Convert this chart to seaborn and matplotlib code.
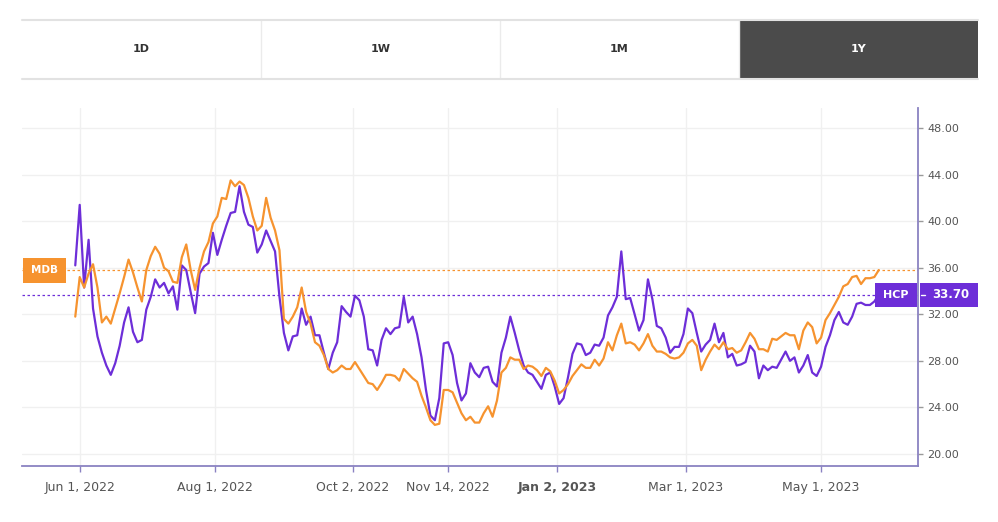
import numpy as np
import pandas as pd
import matplotlib
matplotlib.use("Agg")
import matplotlib.pyplot as plt
import matplotlib.dates as mdates
import matplotlib.transforms as mtransforms
from matplotlib.patches import Rectangle
import seaborn as sns

# ---------------- data ----------------
start_date = "2022-05-30"          # series sampled every 2 calendar days
hcp = [36.2, 41.4, 34.3, 38.4, 32.5, 30.1, 28.7, 27.6, 26.8, 27.8,
       29.3, 31.3, 32.6, 30.5, 29.6, 29.8, 32.4, 33.5, 35.0, 34.3,
       34.7, 33.8, 34.4, 32.4, 36.2, 35.8, 33.9, 32.1, 35.5, 36.1,
       36.4, 39.0, 37.1, 38.4, 39.6, 40.7, 40.8, 43.0, 40.8, 39.7,
       39.5, 37.3, 38.0, 39.2, 38.3, 37.4, 33.5, 30.4, 28.9, 30.1,
       30.2, 32.5, 31.1, 31.8, 30.2, 30.2, 28.7, 27.3, 28.7, 29.6,
       32.7, 32.2, 31.8, 33.6, 33.2, 31.8, 29.0, 28.9, 27.6, 29.8,
       30.8, 30.3, 30.8, 30.9, 33.5, 31.3, 31.8, 30.3, 28.3, 25.5,
       23.3, 22.9, 24.8, 29.5, 29.6, 28.5, 26.1, 24.6, 25.2, 27.8,
       27.0, 26.6, 27.4, 27.5, 26.2, 25.8, 28.7, 30.0, 31.8, 30.4,
       28.9, 27.6, 27.0, 26.8, 26.2, 25.6, 26.8, 27.0, 25.8, 24.3,
       24.8, 26.6, 28.6, 29.5, 29.4, 28.5, 28.7, 29.4, 29.3, 30.0,
       31.9, 32.6, 33.5, 37.4, 33.3, 33.4, 32.0, 30.6, 31.5, 35.0,
       33.3, 31.0, 30.8, 30.0, 28.7, 29.2, 29.2, 30.3, 32.5, 32.1,
       30.4, 28.8, 29.4, 29.8, 31.2, 29.6, 30.4, 28.3, 28.6, 27.6,
       27.7, 27.9, 29.3, 28.8, 26.5, 27.6, 27.2, 27.5, 27.4, 28.1,
       28.8, 28.0, 28.3, 27.0, 27.6, 28.5, 27.0, 26.7, 27.5, 29.2,
       30.2, 31.5, 32.2, 31.3, 31.1, 31.8, 32.9, 33.0, 32.8, 32.8,
       33.1, 33.7]
mdb = [31.8, 35.2, 34.3, 35.5, 36.3, 34.3, 31.3, 31.8, 31.2, 32.5,
       33.8, 35.2, 36.7, 35.6, 34.3, 33.1, 35.8, 37.0, 37.8, 37.2,
       36.0, 35.7, 34.8, 34.7, 36.9, 38.0, 35.8, 34.1, 36.0, 37.4,
       38.2, 39.8, 40.4, 42.0, 41.9, 43.5, 43.0, 43.4, 43.1, 42.0,
       40.4, 39.2, 39.6, 42.0, 40.3, 39.2, 37.5, 31.6, 31.2, 31.8,
       32.6, 34.3, 32.2, 31.2, 29.6, 29.3, 28.5, 27.3, 27.0, 27.2,
       27.6, 27.3, 27.3, 27.9, 27.3, 26.7, 26.1, 26.0, 25.5, 26.1,
       26.8, 26.8, 26.7, 26.3, 27.3, 26.9, 26.5, 26.2, 25.0, 24.0,
       22.9, 22.5, 22.6, 25.5, 25.5, 25.3, 24.4, 23.5, 22.9, 23.2,
       22.7, 22.7, 23.5, 24.1, 23.2, 24.6, 27.0, 27.4, 28.3, 28.1,
       28.1, 27.3, 27.6, 27.5, 27.2, 26.7, 27.4, 27.1, 26.3, 25.2,
       25.5, 26.0, 26.7, 27.2, 27.7, 27.4, 27.4, 28.1, 27.6, 28.2,
       29.6, 28.9, 30.2, 31.2, 29.5, 29.6, 29.4, 28.9, 29.5, 30.3,
       29.3, 28.8, 28.8, 28.6, 28.3, 28.2, 28.3, 28.7, 29.5, 29.8,
       29.3, 27.2, 28.1, 28.8, 29.4, 29.0, 29.6, 29.0, 29.1, 28.7,
       28.9, 29.6, 30.4, 29.9, 29.0, 29.0, 28.8, 29.9, 29.8, 30.1,
       30.4, 30.2, 30.2, 29.0, 30.6, 31.3, 30.9, 29.5, 30.0, 31.5,
       32.1, 32.8, 33.5, 34.4, 34.6, 35.2, 35.3, 34.6, 35.1, 35.1,
       35.2, 35.8]
tickers = ["HCP", "MDB"]
tick_dates = ["2022-06-01", "2022-08-01", "2022-10-02", "2022-11-14",
              "2023-01-02", "2023-03-01", "2023-05-01"]
tick_labels = ["Jun 1, 2022", "Aug 1, 2022", "Oct 2, 2022", "Nov 14, 2022",
               "Jan 2, 2023", "Mar 1, 2023", "May 1, 2023"]
y_ticks = [20, 24, 28, 32, 36, 40, 44, 48]
ranges = ["1D", "1W", "1M", "1Y"]
active_range = "1Y"

# ---------------- styling ----------------
PURPLE = "#6d2ed8"
ORANGE = "#f6932f"
AXIS = "#8a82c2"

dates = pd.date_range(start_date, periods=len(hcp), freq="2D")
df = pd.DataFrame({
    "date": list(dates) * 2,
    "price": hcp + mdb,
    "ticker": ["HCP"] * len(hcp) + ["MDB"] * len(mdb),
})

sns.set_theme(style="white")
plt.rcParams["font.family"] = ["DejaVu Sans"]

fig = plt.figure(figsize=(9.98, 5.22), dpi=100)
W, H = 998, 522

# ---------------- range selector bar ----------------
bar = fig.add_axes([22 / W, 1 - 79 / H, 956 / W, 59 / H])
bar.set_xlim(0, len(ranges))
bar.set_ylim(0, 1)
bar.axis("off")
for i, r in enumerate(ranges):
    active = r == active_range
    if active:
        bar.add_patch(Rectangle((i, 0), 1, 1, facecolor="#4b4b4b", edgecolor="none"))
    bar.text(i + 0.5, 0.5, r, ha="center", va="center", fontsize=8,
             fontweight="bold", color="white" if active else "#333333")
for i in range(1, len(ranges)):
    bar.plot([i, i], [0, 1], color="#ebebeb", lw=1)
bar.plot([0, len(ranges)], [1, 1], color="#e2e2e2", lw=1.5, clip_on=False)
bar.plot([0, len(ranges)], [0, 0], color="#e2e2e2", lw=1.5, clip_on=False)

# ---------------- main chart ----------------
ax = fig.add_axes([22 / W, 1 - 466 / H, 896 / W, 358 / H])
sns.lineplot(data=df, x="date", y="price", hue="ticker", hue_order=tickers,
             palette={"HCP": PURPLE, "MDB": ORANGE}, linewidth=1.6,
             legend=False, ax=ax, zorder=3)

ax.set_xlim(pd.Timestamp("2022-05-06"), pd.Timestamp("2023-06-13 16:00"))
ax.set_ylim(18.97, 49.72)
ax.set_xlabel("")
ax.set_ylabel("")

ax.yaxis.tick_right()
ax.set_yticks(y_ticks)
ax.set_yticklabels([f"{v:.2f}" for v in y_ticks])
ax.set_xticks(pd.to_datetime(tick_dates))
ax.set_xticklabels(tick_labels)
for lab in ax.get_xticklabels():
    if lab.get_text().startswith("Jan"):
        lab.set_fontweight("semibold")
        lab.set_color("#3a3a3a")

ax.tick_params(axis="y", which="both", right=True, left=False, length=3.5,
               width=1, color="#9a9a9a", labelsize=8, labelcolor="#555555", pad=3)
ax.tick_params(axis="x", bottom=True, length=4, width=1, color=AXIS,
               labelsize=9, labelcolor="#555555", pad=7)

ax.grid(True, color="#f0f0f0", linewidth=1)
ax.set_axisbelow(True)
for s in ["top", "left"]:
    ax.spines[s].set_visible(False)
for s in ["bottom", "right"]:
    ax.spines[s].set_color(AXIS)
    ax.spines[s].set_linewidth(1.3)

# last-value reference lines
hcp_last, mdb_last = hcp[-1], mdb[-1]
ax.axhline(mdb_last, color=ORANGE, lw=0.9, ls=(0, (2, 2)), zorder=2)
ax.axhline(hcp_last, color=PURPLE, lw=0.9, ls=(0, (2, 2)), zorder=2)

# labels
trans = mtransforms.blended_transform_factory(ax.transAxes, ax.transData)
px = 1 / 896  # one pixel in axes-fraction
uy = 1 / 11.64  # one pixel in data units
ax.add_patch(Rectangle((1 * px, mdb_last - 12.5 * uy), 43 * px, 25 * uy,
                       transform=trans, facecolor=ORANGE, edgecolor="none",
                       zorder=5, clip_on=False))
ax.text(22.5 * px, mdb_last, "MDB", transform=trans, ha="center", va="center",
        fontsize=7.5, fontweight="bold", color="white", zorder=6)

ax.add_patch(Rectangle((853 * px, hcp_last - 12 * uy), 42 * px, 24 * uy,
                       transform=trans, facecolor=PURPLE, edgecolor="none",
                       zorder=5, clip_on=False))
ax.text(874 * px, hcp_last, "HCP", transform=trans, ha="center", va="center",
        fontsize=8, fontweight="bold", color="white", zorder=6)
ax.add_patch(Rectangle((898 * px, hcp_last - 12 * uy), 58 * px, 24 * uy,
                       transform=trans, facecolor=PURPLE, edgecolor="none",
                       zorder=5, clip_on=False))
ax.plot([899 * px, 903 * px], [hcp_last, hcp_last], transform=trans,
        color="white", lw=1, zorder=6, clip_on=False)
ax.text(929 * px, hcp_last, f"{hcp_last:.2f}", transform=trans, ha="center",
        va="center", fontsize=8.5, fontweight="bold", color="white", zorder=6,
        clip_on=False)

fig.savefig("out.png", dpi=100)
